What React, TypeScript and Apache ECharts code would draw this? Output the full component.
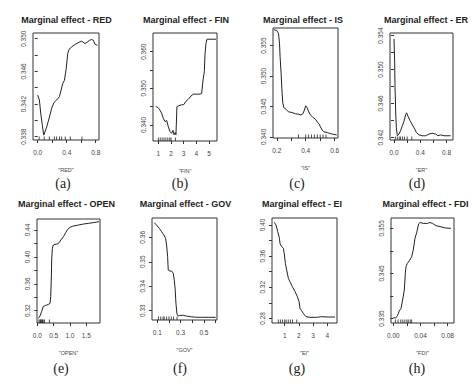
import React, { useEffect, useRef } from "react";
import * as echarts from "echarts";

// ---------- data ----------
const redX = [0, 0.023, 0.041, 0.064, 0.083, 0.1, 0.124, 0.161, 0.193, 0.225, 0.262, 0.299, 0.322, 0.345, 0.368, 0.391, 0.414, 0.432, 0.469, 0.515, 0.575, 0.607, 0.653, 0.685, 0.713, 0.745, 0.768, 0.791, 0.823];
const redY = [0.3431, 0.3425, 0.3409, 0.3394, 0.3382, 0.3386, 0.3392, 0.3404, 0.3415, 0.3422, 0.3425, 0.3429, 0.3437, 0.3445, 0.3449, 0.3462, 0.3482, 0.3487, 0.349, 0.3493, 0.3496, 0.3497, 0.3494, 0.3496, 0.3498, 0.3499, 0.3498, 0.3493, 0.3492];
const redRug = [0.02, 0.09, 0.16, 0.23, 0.26, 0.3, 0.33, 0.38, 0.45, 0.61];

const finX = [0.79, 0.95, 1.08, 1.26, 1.39, 1.53, 1.66, 1.79, 1.92, 2.05, 2.16, 2.24, 2.34, 2.39, 2.47, 2.58, 2.84, 3.0, 3.16, 3.37, 3.58, 3.76, 4.03, 4.29, 4.42, 4.53, 4.63, 4.68, 4.76, 4.84, 5.08, 5.55];
const finY = [0.345, 0.3448, 0.3443, 0.3432, 0.3418, 0.3409, 0.3412, 0.3395, 0.3382, 0.3377, 0.3385, 0.3373, 0.3379, 0.3373, 0.345, 0.3452, 0.3455, 0.3455, 0.3464, 0.347, 0.3479, 0.3484, 0.3484, 0.3484, 0.3486, 0.3523, 0.3545, 0.3591, 0.3623, 0.3634, 0.3634, 0.3634];
const finRug = [1.0, 1.15, 1.3, 1.45, 1.6, 1.75, 1.9, 2.0, 2.35];

const isX = [0.181, 0.2, 0.212, 0.219, 0.223, 0.23, 0.237, 0.242, 0.249, 0.265, 0.281, 0.305, 0.328, 0.351, 0.367, 0.381, 0.391, 0.4, 0.409, 0.421, 0.433, 0.449, 0.467, 0.484, 0.493, 0.502, 0.514, 0.526, 0.549, 0.572, 0.595, 0.614];
const isY = [0.3576, 0.3575, 0.357, 0.3554, 0.3532, 0.3504, 0.3471, 0.3455, 0.3448, 0.3445, 0.3441, 0.344, 0.3438, 0.3437, 0.3436, 0.3438, 0.3444, 0.3451, 0.3448, 0.3441, 0.3436, 0.3432, 0.3429, 0.3423, 0.3421, 0.3416, 0.3411, 0.3408, 0.3407, 0.3405, 0.3404, 0.3403];
const isRug = [0.35, 0.4, 0.42, 0.44, 0.46, 0.48, 0.5, 0.52, 0.54];

const erX = [0.0, 0.01, 0.015, 0.025, 0.035, 0.05, 0.076, 0.1, 0.127, 0.152, 0.177, 0.192, 0.213, 0.243, 0.278, 0.314, 0.339, 0.38, 0.43, 0.48, 0.532, 0.582, 0.633, 0.668, 0.709, 0.76, 0.86];
const erY = [0.3536, 0.3509, 0.3482, 0.3451, 0.3432, 0.3422, 0.3424, 0.3428, 0.3434, 0.3439, 0.3447, 0.3449, 0.3445, 0.344, 0.3435, 0.343, 0.3426, 0.3423, 0.3422, 0.3422, 0.3424, 0.3425, 0.3424, 0.3422, 0.3423, 0.3422, 0.3422];
const erRug = [0.02, 0.05, 0.08, 0.1, 0.13, 0.16, 0.2, 0.27];

const openX = [0.03, 0.08, 0.13, 0.18, 0.23, 0.29, 0.34, 0.39, 0.41, 0.43, 0.44, 0.46, 0.49, 0.54, 0.61, 0.67, 0.72, 0.8, 0.87, 0.93, 1.0, 1.1, 1.26, 1.41, 1.56, 1.71, 1.89];
const openY = [0.3086, 0.312, 0.3185, 0.326, 0.3275, 0.3285, 0.3294, 0.3309, 0.3408, 0.3706, 0.3954, 0.4127, 0.4177, 0.4187, 0.4192, 0.4212, 0.4251, 0.4301, 0.436, 0.441, 0.444, 0.446, 0.4474, 0.4489, 0.4499, 0.4509, 0.4524];
const openRug = [0.05, 0.08, 0.1, 0.12, 0.14, 0.16, 0.18, 0.22, 0.37];

const govX = [0.074, 0.094, 0.117, 0.137, 0.157, 0.171, 0.18, 0.189, 0.194, 0.209, 0.223, 0.237, 0.246, 0.254, 0.26, 0.269, 0.28, 0.294, 0.323, 0.351, 0.394, 0.437, 0.48, 0.537, 0.6];
const govY = [0.366, 0.365, 0.3637, 0.3623, 0.361, 0.3596, 0.3569, 0.3521, 0.3466, 0.3462, 0.3462, 0.3453, 0.3425, 0.3385, 0.333, 0.3286, 0.3278, 0.3281, 0.3281, 0.3278, 0.3275, 0.3273, 0.3273, 0.3273, 0.3273];
const govRug = [0.11, 0.13, 0.15, 0.16, 0.18, 0.2, 0.22, 0.24, 0.27];

const eiX = [0.27, 0.39, 0.51, 0.63, 0.67, 0.79, 0.91, 0.98, 1.05, 1.14, 1.26, 1.37, 1.54, 1.73, 1.89, 2.01, 2.08, 2.19, 2.31, 2.5, 2.78, 3.25, 3.6, 4.07, 4.54];
const eiY = [0.4034, 0.4, 0.3914, 0.3829, 0.3764, 0.3721, 0.37, 0.3614, 0.3507, 0.3421, 0.3314, 0.3271, 0.3207, 0.3143, 0.3079, 0.3014, 0.2929, 0.2898, 0.2864, 0.2821, 0.2813, 0.2813, 0.2821, 0.2817, 0.2817];
const eiRug = [0.55, 0.7, 0.85, 1.0, 1.1, 1.25, 1.4, 1.55, 1.85];

const fdiX = [0.0, 0.0034, 0.0064, 0.0088, 0.0113, 0.0137, 0.0162, 0.0177, 0.0187, 0.0206, 0.0236, 0.027, 0.0294, 0.0319, 0.0344, 0.0373, 0.0393, 0.0442, 0.05, 0.054, 0.0579, 0.0628, 0.0687, 0.0761, 0.0849];
const fdiY = [0.3352, 0.3351, 0.3357, 0.3367, 0.3372, 0.3391, 0.3413, 0.345, 0.3465, 0.3472, 0.3478, 0.3487, 0.3502, 0.3528, 0.354, 0.356, 0.3563, 0.3561, 0.3561, 0.3563, 0.3561, 0.3556, 0.3554, 0.3551, 0.355];
const fdiRug = [0.003, 0.007, 0.011, 0.014, 0.017, 0.02, 0.022, 0.025, 0.027];

// tick values
const redXTicks = [0, 0.2, 0.4, 0.6, 0.8];
const redXLabels = [0, 0.4, 0.8];
const redYTicks = [0.338, 0.34, 0.342, 0.344, 0.346, 0.348, 0.35];
const redYLabels = [0.338, 0.342, 0.346, 0.35];
const finXTicks = [1, 2, 3, 4, 5];
const finYTicks = [0.34, 0.345, 0.35, 0.355, 0.36];
const finYLabels = [0.34, 0.35, 0.36];
const isXTicks = [0.2, 0.3, 0.4, 0.5, 0.6];
const isXLabels = [0.2, 0.4, 0.6];
const isYTicks = [0.34, 0.345, 0.35, 0.355];
const erXTicks = [0, 0.2, 0.4, 0.6, 0.8];
const erXLabels = [0, 0.4, 0.8];
const erYTicks = [0.342, 0.344, 0.346, 0.348, 0.35, 0.352, 0.354];
const erYLabels = [0.342, 0.346, 0.35, 0.354];
const openXTicks = [0, 0.5, 1, 1.5];
const openYTicks = [0.32, 0.34, 0.36, 0.38, 0.4, 0.42, 0.44];
const openYLabels = [0.32, 0.36, 0.4, 0.44];
const govXTicks = [0.1, 0.2, 0.3, 0.4, 0.5, 0.6];
const govXLabels = [0.1, 0.3, 0.5];
const govYTicks = [0.33, 0.34, 0.35, 0.36];
const eiXTicks = [1, 2, 3, 4];
const eiYTicks = [0.28, 0.3, 0.32, 0.34, 0.36, 0.38, 0.4];
const eiYLabels = [0.28, 0.32, 0.36, 0.4];
const fdiXTicks = [0, 0.02, 0.04, 0.06, 0.08];
const fdiXLabels = [0, 0.04, 0.08];
const fdiYTicks = [0.335, 0.34, 0.345, 0.35, 0.355];
const fdiYLabels = [0.335, 0.345, 0.355];

const names = ["RED", "FIN", "IS", "ER", "OPEN", "GOV", "EI", "FDI"];
const captions = ["(a)", "(b)", "(c)", "(d)", "(e)", "(f)", "(g)", "(h)"];

// ---------- layout / config ----------
const panels = [
  { x: redX, y: redY, rug: redRug, xt: redXTicks, xl: redXLabels, xd: 1, yt: redYTicks, yl: redYLabels, yd: 3, xr: [-0.065, 0.845], yr: [0.3376, 0.3507], box: [33, 33, 66, 107], tx: 66.5, cx: 63 },
  { x: finX, y: finY, rug: finRug, xt: finXTicks, xl: finXTicks, xd: 0, yt: finYTicks, yl: finYLabels, yd: 3, xr: [0.58, 5.63], yr: [0.3356, 0.3651], box: [153, 33, 64, 108], tx: 186, cx: 180 },
  { x: isX, y: isY, rug: isRug, xt: isXTicks, xl: isXLabels, xd: 1, yt: isYTicks, yl: isYTicks, yd: 3, xr: [0.174, 0.623], yr: [0.3398, 0.3579], box: [273, 28, 65, 110], tx: 303, cx: 297 },
  { x: erX, y: erY, rug: erRug, xt: erXTicks, xl: erXLabels, xd: 1, yt: erYTicks, yl: erYLabels, yd: 3, xr: [-0.061, 0.897], yr: [0.3417, 0.3543], box: [390, 33, 63, 107], tx: 426, cx: 417 },
  { x: openX, y: openY, rug: openRug, xt: openXTicks, xl: openXTicks, xd: 1, yt: openYTicks, yl: openYLabels, yd: 2, xr: [-0.01, 1.92], yr: [0.3017, 0.4564], box: [37, 219, 63, 104], tx: 66.5, cx: 61 },
  { x: govX, y: govY, rug: govRug, xt: govXTicks, xl: govXLabels, xd: 1, yt: govYTicks, yl: govYTicks, yd: 2, xr: [0.055, 0.612], yr: [0.3262, 0.3679], box: [152, 218, 65, 102], tx: 185.5, cx: 180 },
  { x: eiX, y: eiY, rug: eiRug, xt: eiXTicks, xl: eiXTicks, xd: 0, yt: eiYTicks, yl: eiYLabels, yd: 2, xr: [0.107, 4.68], yr: [0.274, 0.409], box: [272, 218, 65, 105], tx: 302, cx: 297 },
  { x: fdiX, y: fdiY, rug: fdiRug, xt: fdiXTicks, xl: fdiXLabels, xd: 2, yt: fdiYTicks, yl: fdiYLabels, yd: 3, xr: [-0.0034, 0.0894], yr: [0.334, 0.3573], box: [391, 218, 63, 105], tx: 425.5, cx: 417 },
];

const SANS = "'Liberation Sans', Arial, sans-serif";
const SERIF = "'Liberation Serif', 'Times New Roman', serif";

export default function App() {
  const ref = useRef<HTMLDivElement>(null);
  useEffect(() => {
    if (!ref.current) return;
    const chart = echarts.init(ref.current, undefined, { renderer: "svg" });
    const grid = panels.map((p) => ({
      left: p.box[0], top: p.box[1], width: p.box[2], height: p.box[3],
      show: true, borderColor: "#333", borderWidth: 1, backgroundColor: "transparent",
    }));
    const xAxis = panels.map((p, i) => ({
      type: "value", gridIndex: i, min: p.xr[0], max: p.xr[1],
      axisLine: { show: false }, splitLine: { show: false },
      axisTick: { show: true, inside: false, length: 3, customValues: p.xt, lineStyle: { color: "#333", width: 1 } },
      axisLabel: { customValues: p.xl, formatter: (v: number) => v.toFixed(p.xd), fontSize: 6.5, color: "#444", margin: 9, fontFamily: SANS },
      name: `"${names[i]}"`, nameLocation: "middle", nameGap: 27,
      nameTextStyle: { fontSize: 5.5, color: "#444", fontFamily: SANS },
    }));
    const yAxis = panels.map((p, i) => ({
      type: "value", gridIndex: i, min: p.yr[0], max: p.yr[1],
      axisLine: { show: false }, splitLine: { show: false },
      axisTick: { show: true, inside: false, length: 3, customValues: p.yt, lineStyle: { color: "#333", width: 1 } },
      axisLabel: { customValues: p.yl, formatter: (v: number) => v.toFixed(p.yd), fontSize: 6.5, color: "#444", margin: 6, rotate: 90, fontFamily: SANS },
    }));
    const series: any[] = [];
    panels.forEach((p, i) => {
      series.push({
        type: "line", xAxisIndex: i, yAxisIndex: i, showSymbol: false, symbol: "none",
        data: p.x.map((v, k) => [v, p.y[k]]),
        lineStyle: { color: "#222", width: 1 }, clip: true,
      });
      series.push({
        type: "scatter", xAxisIndex: i, yAxisIndex: i, clip: false,
        symbol: "rect", symbolSize: [1, 3.5], symbolOffset: [0, -1.75],
        data: p.rug.map((v) => [v, p.yr[0]]),
        itemStyle: { color: "#222" },
      });
    });
    const graphic: any[] = [];
    panels.forEach((p, i) => {
      const row = i < 4 ? 0 : 1;
      graphic.push({
        type: "text", x: p.tx, y: row === 0 ? 20 : 204,
        style: { text: `Marginal effect - ${names[i]}`, font: `bold 9px ${SANS}`, fill: "#222", align: "center", verticalAlign: "middle" },
      });
      graphic.push({
        type: "text", x: p.cx, y: row === 0 ? 183 : 368,
        style: { text: captions[i], font: `14px ${SERIF}`, fill: "#222", align: "center", verticalAlign: "middle" },
      });
    });
    chart.setOption({
      animation: false,
      backgroundColor: "#fff",
      grid, xAxis, yAxis, series, graphic,
    });
    return () => chart.dispose();
  }, []);
  return (
    <div
      ref={ref}
      style={{ position: "absolute", left: 0, top: 0, width: 474, height: 383, background: "#fff" }}
    />
  );
}
